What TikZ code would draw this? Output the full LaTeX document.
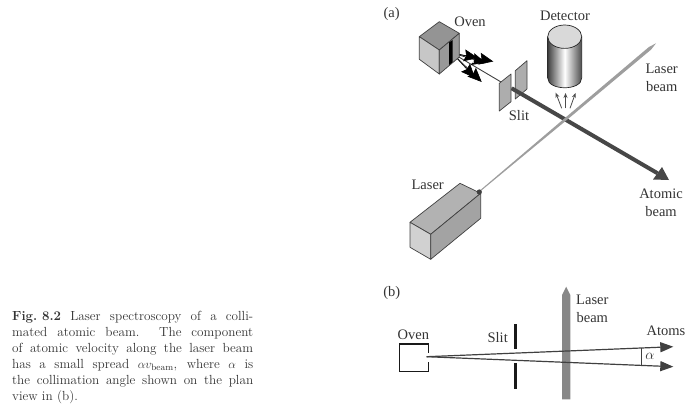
\documentclass[tikz,border=0pt]{standalone}
\usepackage{fontspec}
\newfontfamily\labelfont{Liberation Serif}
\usetikzlibrary{arrows.meta, calc}

\tikzset{
	lab/.style = {inner sep=0pt, align=center, text=black!80, font=\labelfont\fontsize{14.5}{18}\selectfont},
	face/.style = {draw=black!75, line width=0.7pt, line join=round},
	burst/.style = {draw=black, line width=0.6pt, -{Stealth[length=14pt, width=12pt, inset=2pt]}},
	rise/.style = {draw=black!70, line width=0.8pt, -{Stealth[length=5pt, width=4pt]}},
	ray/.style = {draw=black!75, line width=1.2pt, -{Stealth[length=13pt, width=10pt, inset=0pt]}}
}

\begin{document}
\begin{tikzpicture}[x=1pt, y=-1pt]
	\useasboundingbox (0,0) rectangle (700,409);

	% corners and end points
	\foreach \name/\x/\y in {ovenA/419.3/36.7, ovenB/439.3/21.7, ovenC/459.3/33.3, ovenD/439.3/50, ovenE/419.3/59.3, ovenF/439.3/74, ovenG/459.3/57,
			plateA/499.3/83.3, plateB/511/74, plateC/511/101.7, plateD/499.3/111, plateE/515.3/70.7, plateF/527/60.7, plateG/527/89, plateH/515.3/99,
			laserA/410/222.3, laserB/460/183.3, laserC/480.7/193.3, laserD/430.7/234.3, laserE/430.7/259.3, laserF/410/247.3, laserG/480.7/218.3,
			thinA/452/53, thinB/511.7/88.3, headA/653/179.5, headB/662/167, headC/669/180,
			tipL/656/43.3, tipR/651.1/49.6, tipT/648.9/47, tipO/479.7/190.6, tipP/480.3/191.4, crossT/563.4/119.3, crossR/565.2/121.3,
			detL/547.7/36.7, detR/581.7/36.7, detP/547.7/78, detQ/581.7/78, detC/564.7/36.7,
			slitA/515.7/324, slitB/515.7/349.3, slitC/515.7/363.3, slitD/515.7/389,
			boxA/428.3/352.7, boxB/428.3/344, boxC/399.3/344, boxD/399.3/371.7, boxE/428.3/371.7, boxF/428.3/361.7,
			srcB/426.7/356.7, endU/673.3/346.7, endL/673.3/366.7, alphaA/641.7/348.2, alphaB/641.7/365.2}
		\coordinate (\name) at (\x, \y);

	% (a)
	\draw[black!75, line width=0.9pt] (thinA) -- (thinB);
	\foreach \x/\y in {493.3/61.5, 486/63, 481.7/82, 475/78, 478/58}
		\path[burst] (thinA) -- (\x, \y);
	\fill[white] (473,62) circle (1.2pt);

	\fill[face, fill=black!42] (ovenA) -- (ovenB) -- (ovenC) -- (ovenD) -- cycle;
	\fill[face, fill=black!22] (ovenA) -- (ovenD) -- (ovenF) -- (ovenE) -- cycle;
	\fill[face, fill=black!40] (ovenD) -- (ovenC) -- (ovenG) -- (ovenF) -- cycle;
	\fill[black] (449,42.5) -- (452.7,40) -- (452.7,62) -- (449,65) -- cycle;

	\fill[face, fill=black!32] (plateE) -- (plateF) -- (plateG) -- (plateH) -- cycle;
	\fill[face, fill=black!32] (plateA) -- (plateB) -- (plateC) -- (plateD) -- cycle;

	\draw[black!72, line width=4pt] (thinB) -- ($(headA)!0.5!(headB)$);
	\fill[black!72] (headA) -- (headB) -- (headC) -- cycle;

	\fill[black!38] (tipO) -- (crossT) -- (tipT) -- (tipL) -- (tipR) -- (crossR) -- (tipP) -- cycle;

	\shade[left color=black!75, right color=black!70, middle color=white] (detL) -- (detP)
		.. controls (547.7,91) and (581.7,91) .. (detQ) -- (detR) -- cycle;
	\draw[black!85, line width=0.7pt] (detL) -- (detP) .. controls (547.7,91) and (581.7,91) .. (detQ) -- (detR);
	\draw[black!85, line width=0.7pt, fill=black!15] (detC) ellipse [x radius=17pt, y radius=11.7pt];

	\foreach \a/\b/\c/\d in {561.7/108.3/555.7/92.7, 565.5/108.3/565.5/93, 570/108.3/575.5/93}
		\path[rise] (\a, \b) -- (\c, \d);

	\fill[face, fill=black!30] (laserA) -- (laserB) -- (laserC) -- (laserD) -- cycle;
	\fill[face, fill=black!18] (laserA) -- (laserD) -- (laserE) -- (laserF) -- cycle;
	\fill[face, fill=black!36] (laserD) -- (laserC) -- (laserG) -- (laserE) -- cycle;
	\fill[black!75] (479.3,192) circle (2.6pt);

	% (b)
	\draw[black!90, line width=1.3pt] (boxA) -- (boxB) -- (boxC) -- (boxD) -- (boxE) -- (boxF);
	\foreach \from/\to in {slitA/slitB, slitC/slitD}
		\draw[black!90, line width=2.6pt] (\from) -- (\to);
	\fill[black!47] (562,399.3) -- (562,295) -- (566.2,286.7) -- (570.3,295) -- (570.3,399.3) -- cycle;
	\foreach \to in {endU, endL}
		\path[ray] (srcB) -- (\to);
	\draw[black!75, line width=0.7pt] (alphaA) -- (alphaB);

	% labels
	\foreach \name/\x/\y/\lab in {a/391.7/14/(a), ovenTop/470/21.7/Oven, detector/565/15.7/Detector, laserTop/661.7/78.3/{Laser\\beam},
			slitTop/519/115.7/Slit, laserBox/427.7/185/Laser, atomic/661/202.5/{Atomic\\beam},
			b/391.7/292.7/(b), ovenLow/413.3/335/Oven, slitLow/497.7/337.3/Slit, laserLow/592.3/308.8/{Laser\\beam}, atoms/666/331/Atoms}
		\node[lab] (\name) at (\x, \y) {\lab};
	\node[lab] (alpha) at (650, 356.7) {$\alpha$};

	% caption
	\node[anchor=north west, inner sep=0pt, text width=241pt, align=justify, text=black!80,
		font=\fontsize{13.2}{16}\selectfont] (caption) at (12, 311) {\mbox{\textbf{Fig.\ 8.2}} Laser spectroscopy of a colli-\linebreak
		mated atomic beam.\ \ The component\linebreak
		of atomic velocity along the laser beam\linebreak
		has a small spread $\alpha v_{\mathrm{beam}}$, where $\alpha$ is\linebreak
		the collimation angle shown on the plan\linebreak
		view in (b).};
\end{tikzpicture}
\end{document}
